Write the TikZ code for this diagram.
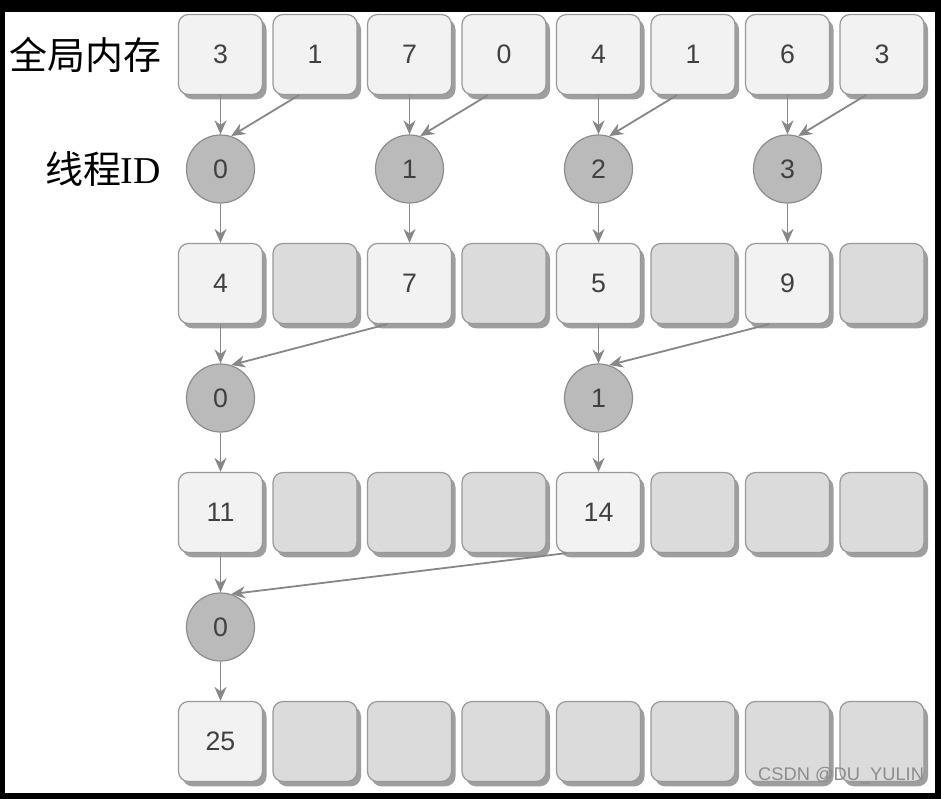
\documentclass[tikz,border=0pt]{standalone}
\usepackage{fontspec}
\setmainfont{Liberation Sans}
\newfontfamily\cjk{Noto Sans CJK SC}
\newfontfamily\serifid{Liberation Serif}
\usetikzlibrary{arrows.meta,shadows}

\begin{document}
\begin{tikzpicture}[x=0.25mm, y=-0.25mm,
  cell/.style={draw=black!40, line width=0.3mm, rounded corners=2.5mm, minimum width=21mm, minimum height=20mm, inner sep=0pt, text=black!75, font=\fontsize{19pt}{22pt}\selectfont, general shadow={fill=black!38, shadow xshift=1mm, shadow yshift=-1.2mm}},
  full/.style={cell, fill=black!5},
  empty/.style={cell, fill=black!14},
  thread/.style={circle, draw=black!45, line width=0.3mm, fill=black!27, minimum size=17mm, inner sep=0pt, text=black!75, font=\fontsize{19pt}{22pt}\selectfont},
  link/.style={-{Stealth[length=3.5mm,width=3mm]}, draw=black!47, line width=0.45mm}]
\useasboundingbox (0,0) rectangle (941,799);
\fill[black] (0,0) rectangle (941,799);
\fill[white] (5,12) rectangle (935,793);

\node[anchor=east, font=\cjk\fontsize{27pt}{30pt}\selectfont] (memlabel) at (166,55) {全局内存};
\node[anchor=east, font=\cjk\fontsize{27pt}{30pt}\selectfont] (tidlabel) at (166,169) {线程{\serifid ID}};

\node[full] (a1) at (220.5,54.5) {3};
\node[full] (a2) at (315,54.5) {1};
\node[full] (a3) at (409.5,54.5) {7};
\node[full] (a4) at (504,54.5) {0};
\node[full] (a5) at (598.5,54.5) {4};
\node[full] (a6) at (693,54.5) {1};
\node[full] (a7) at (787.5,54.5) {6};
\node[full] (a8) at (882,54.5) {3};

\node[thread] (p0) at (220.5,169) {0};
\node[thread] (p1) at (409.5,169) {1};
\node[thread] (p2) at (598.5,169) {2};
\node[thread] (p3) at (787.5,169) {3};

\node[full] (b1) at (220.5,283.5) {4};
\node[empty] (b2) at (315,283.5) {};
\node[full] (b3) at (409.5,283.5) {7};
\node[empty] (b4) at (504,283.5) {};
\node[full] (b5) at (598.5,283.5) {5};
\node[empty] (b6) at (693,283.5) {};
\node[full] (b7) at (787.5,283.5) {9};
\node[empty] (b8) at (882,283.5) {};

\node[thread] (q0) at (220.5,398) {0};
\node[thread] (q1) at (598.5,398) {1};

\node[full] (c1) at (220.5,512.5) {11};
\node[empty] (c2) at (315,512.5) {};
\node[empty] (c3) at (409.5,512.5) {};
\node[empty] (c4) at (504,512.5) {};
\node[full] (c5) at (598.5,512.5) {14};
\node[empty] (c6) at (693,512.5) {};
\node[empty] (c7) at (787.5,512.5) {};
\node[empty] (c8) at (882,512.5) {};

\node[thread] (r0) at (220.5,627) {0};

\node[full] (d1) at (220.5,741.5) {25};
\node[empty] (d2) at (315,741.5) {};
\node[empty] (d3) at (409.5,741.5) {};
\node[empty] (d4) at (504,741.5) {};
\node[empty] (d5) at (598.5,741.5) {};
\node[empty] (d6) at (693,741.5) {};
\node[empty] (d7) at (787.5,741.5) {};
\node[empty] (d8) at (882,741.5) {};

\draw[link] (a1.south) -- (p0.north);
\draw[link] ([xshift=-4mm]a2.south) -- (p0.72);
\draw[link] (a3.south) -- (p1.north);
\draw[link] ([xshift=-4mm]a4.south) -- (p1.72);
\draw[link] (a5.south) -- (p2.north);
\draw[link] ([xshift=-4mm]a6.south) -- (p2.72);
\draw[link] (a7.south) -- (p3.north);
\draw[link] ([xshift=-4mm]a8.south) -- (p3.72);

\draw[link] (p0.south) -- (b1.north);
\draw[link] (p1.south) -- (b3.north);
\draw[link] (p2.south) -- (b5.north);
\draw[link] (p3.south) -- (b7.north);

\draw[link] (b1.south) -- (q0.north);
\draw[link] ([xshift=-5.5mm]b3.south) -- (q0.72);
\draw[link] (b5.south) -- (q1.north);
\draw[link] ([xshift=-4.5mm]b7.south) -- (q1.72);

\draw[link] (q0.south) -- (c1.north);
\draw[link] (q1.south) -- (c5.north);

\draw[link] (c1.south) -- (r0.north);
\draw[link] ([xshift=-8mm]c5.south) -- (r0.72);

\draw[link] (r0.south) -- (d1.north);

\node[anchor=east, text=black!45, font=\fontsize{13pt}{15pt}\selectfont] (mark) at (929,776) {CSDN @DU\_YULIN};
\end{tikzpicture}
\end{document}
